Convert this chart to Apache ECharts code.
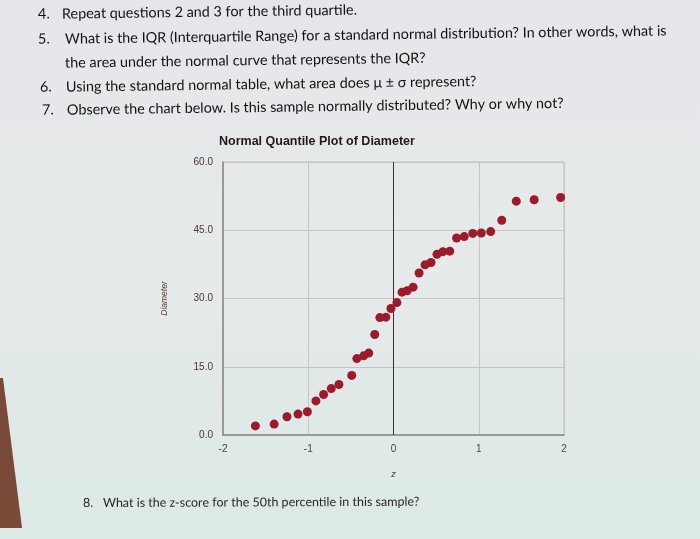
<!DOCTYPE html>
<html>
<head>
<meta charset="utf-8">
<script src="https://cdn.jsdelivr.net/npm/echarts@6/dist/echarts.min.js"></script>
<style>
html,body{margin:0;padding:0;background:#e3e7e9;}
#chart{width:700px;height:539px;}
</style>
</head>
<body>
<div id="chart"></div>
<script>
// Theoretical normal quantiles (z) and sorted diameters
const zScores = [-1.62, -1.40, -1.25, -1.12, -1.01, -0.91, -0.82, -0.73, -0.64, -0.49,
  -0.43, -0.35, -0.29, -0.22, -0.16, -0.09, -0.03, 0.04, 0.10, 0.16,
  0.23, 0.30, 0.37, 0.44, 0.51, 0.58, 0.66, 0.74, 0.83, 0.93,
  1.03, 1.14, 1.27, 1.44, 1.65, 1.96];
const diameters = [2.0, 2.4, 4.0, 4.6, 5.1, 7.5, 8.9, 10.2, 11.1, 13.1,
  16.8, 17.4, 18.0, 22.1, 25.8, 25.9, 27.8, 29.1, 31.4, 31.7,
  32.5, 35.6, 37.4, 37.9, 39.7, 40.3, 40.4, 43.3, 43.6, 44.3,
  44.4, 44.7, 47.2, 51.4, 51.7, 52.2];
const xTicks = [-2, -1, 0, 1, 2];
const yTicks = [0, 15, 30, 45, 60];

const chartTitle = 'Normal Quantile Plot of Diameter';
const yName = 'Diameter';
const xName = 'z';
const questions = [
  ['4.', 'Repeat questions 2 and 3 for the third quartile.'],
  ['5.', 'What is the IQR (Interquartile Range) for a standard normal distribution? In other words, what is'],
  ['', 'the area under the normal curve that represents the IQR?'],
  ['6.', 'Using the standard normal table, what area does \u03bc \u00b1 \u03c3 represent?'],
  ['7.', 'Observe the chart below. Is this sample normally distributed? Why or why not?']
];
const question8 = ['8.', 'What is the z-score for the 50th percentile in this sample?'];

const points = zScores.map((z, i) => [z, diameters[i]]);

const qFont = '"Lato", "Open Sans", sans-serif';
const qColor = '#161012';
const qY = [14, 39, 63, 87, 110];
const qX = [[38, 62], [38, 65], [null, 65], [40, 66], [42, 67]];
const graphics = [];
graphics.push({
  type: 'rect', z: -10, silent: true,
  shape: {x: 0, y: 0, width: 700, height: 539},
  style: {fill: {type: 'linear', x: 0, y: 0, x2: 0, y2: 1, colorStops: [
    {offset: 0, color: '#e5e6ea'}, {offset: 0.5, color: '#e6eaea'}, {offset: 1, color: '#dbe9e7'}]}}
});
graphics.push({
  type: 'polygon', z: -5, silent: true,
  shape: {points: [[0, 378], [3, 378], [22, 528], [0, 528]]},
  style: {fill: '#7a4a38'}
});
questions.forEach((q, i) => {
  const rot = 0.0135;
  if (q[0]) {
    graphics.push({type: 'text', x: qX[i][0], y: qY[i], rotation: rot,
      style: {text: q[0], font: '14.4px ' + qFont, fill: qColor, textVerticalAlign: 'middle'}});
  }
  graphics.push({type: 'text', x: qX[i][1], y: qY[i], rotation: rot,
    style: {text: q[1], font: '14.4px ' + qFont, fill: qColor, textVerticalAlign: 'middle'}});
});
graphics.push({type: 'text', x: 83, y: 503, rotation: 0.004,
  style: {text: question8[0], font: '12.5px ' + qFont, fill: '#2a2426', textVerticalAlign: 'middle'}});
graphics.push({type: 'text', x: 103, y: 503, rotation: 0.004,
  style: {text: question8[1], font: '12.5px ' + qFont, fill: '#2a2426', textVerticalAlign: 'middle'}});

const chart = echarts.init(document.getElementById('chart'), null, {renderer: 'canvas'});
chart.setOption({
  backgroundColor: 'transparent',
  animation: false,
  title: {
    text: chartTitle, left: 214, top: 130,
    textStyle: {fontFamily: '"Liberation Sans", Arial, sans-serif', fontSize: 12.5, fontWeight: 'bold', color: '#241818'}
  },
  graphic: graphics,
  grid: {left: 223, top: 162, width: 341, height: 273, show: true, borderColor: '#c9bfbd', borderWidth: 1, backgroundColor: 'transparent'},
  xAxis: {
    type: 'value', min: xTicks[0], max: xTicks[xTicks.length - 1], interval: 1,
    name: xName, nameLocation: 'middle', nameGap: 35,
    nameTextStyle: {fontFamily: '"Liberation Sans", Arial, sans-serif', fontSize: 9, fontStyle: 'italic', color: '#4a3c3c'},
    axisLine: {show: true, onZero: false, lineStyle: {color: '#8f8683', width: 1.5}},
    axisTick: {show: false},
    axisLabel: {margin: 9, fontFamily: '"Liberation Sans", Arial, sans-serif', fontSize: 10, color: '#4e4242'},
    splitLine: {show: true, lineStyle: {color: '#cbc3c1', width: 1}}
  },
  yAxis: {
    type: 'value', min: yTicks[0], max: yTicks[yTicks.length - 1], interval: 15,
    name: yName, nameLocation: 'middle', nameGap: 54, nameRotate: 90,
    nameTextStyle: {fontFamily: '"Liberation Sans", Arial, sans-serif', fontSize: 8.5, fontStyle: 'italic', color: '#5a3630'},
    axisLine: {show: true, onZero: false, lineStyle: {color: '#8f8683', width: 1.5}},
    axisTick: {show: false},
    axisLabel: {margin: 10, fontFamily: '"Liberation Sans", Arial, sans-serif', fontSize: 10, color: '#4e3430',
      formatter: v => v.toFixed(1)},
    splitLine: {show: true, lineStyle: {color: '#cbc3c1', width: 1}}
  },
  series: [{
    type: 'scatter',
    data: points,
    symbol: 'circle',
    symbolSize: 9,
    itemStyle: {color: '#9c1b2b', opacity: 1},
    markLine: {
      silent: true, symbol: 'none', label: {show: false},
      lineStyle: {color: '#333', width: 1, type: 'solid'},
      data: [{xAxis: 0}]
    },
    z: 5
  }]
});
</script>
</body>
</html>
